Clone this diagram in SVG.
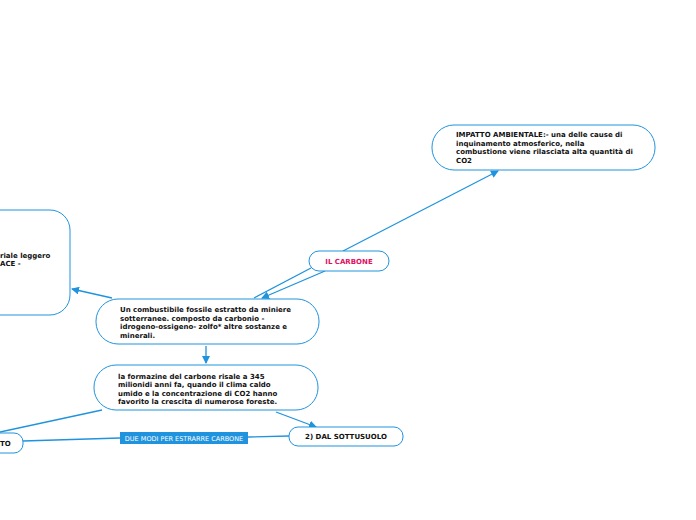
<svg xmlns="http://www.w3.org/2000/svg" width="696" height="520" viewBox="0 0 696 520">
<defs>
<marker id="a" markerWidth="8" markerHeight="8" refX="7" refY="4" orient="auto" markerUnits="userSpaceOnUse"><path d="M0,0 L8,4 L0,8 Z" fill="#1f93dd"/></marker>
<style>
.n{fill:#fff;stroke:#1f93dd;stroke-width:1}
.t{font-family:"DejaVu Sans",sans-serif;font-weight:bold;font-size:7px;fill:#111}
.c{stroke:#1f93dd;stroke-width:1.3;fill:none}
</style>
</defs>
<rect width="696" height="520" fill="#fff"/>
<g id="connectors">
<line class="c" x1="325" y1="271" x2="262" y2="298" marker-end="url(#a)"/>
<line class="c" x1="311" y1="268" x2="254" y2="298"/>
<line class="c" x1="343" y1="251" x2="498" y2="171" marker-end="url(#a)"/>
<line class="c" x1="112" y1="298" x2="72" y2="289" marker-end="url(#a)"/>
<line class="c" x1="206" y1="346" x2="206" y2="363" marker-end="url(#a)"/>
<line class="c" x1="102" y1="410" x2="0" y2="432"/>
<line class="c" x1="276" y1="412" x2="316" y2="427" marker-end="url(#a)"/>
<line class="c" x1="23" y1="441" x2="120" y2="438"/>
<line class="c" x1="248" y1="437" x2="289" y2="436"/>
</g>
<g id="impatto"><rect class="n" x="432" y="125" width="223" height="45" rx="22"/>
<text class="t"><tspan x="456" y="137">IMPATTO AMBIENTALE:- una delle cause di</tspan><tspan x="456" y="146">inquinamento atmosferico, nella</tspan><tspan x="456" y="154">combustione viene rilasciata alta quantità di</tspan><tspan x="456" y="163">CO2</tspan></text></g>
<g id="carbone"><rect class="n" x="309" y="251" width="80" height="20" rx="10"/>
<text class="t" x="349" y="264" text-anchor="middle" fill="#e0115f" style="fill:#e0115f">IL CARBONE</text></g>
<g id="left"><rect class="n" x="-30" y="210" width="100" height="105" rx="20"/>
<text class="t"><tspan x="0" y="258">riale leggero</tspan><tspan x="0" y="266">ACE -</tspan></text></g>
<g id="main"><rect class="n" x="96" y="299" width="223" height="45" rx="22"/>
<text class="t"><tspan x="120" y="312">Un combustibile fossile estratto da miniere</tspan><tspan x="120" y="321">sotterranee. composto da carbonio -</tspan><tspan x="120" y="329">idrogeno-ossigeno- zolfo* altre sostanze e</tspan><tspan x="120" y="338">minerali.</tspan></text></g>
<g id="formazione"><rect class="n" x="94" y="365" width="224" height="45" rx="22"/>
<text class="t"><tspan x="118" y="379">la formazine del carbone risale a 345</tspan><tspan x="118" y="387">milionidi anni fa, quando il clima caldo</tspan><tspan x="118" y="396">umido e la concentrazione di CO2 hanno</tspan><tspan x="118" y="404">favorito la crescita di numerose foreste.</tspan></text></g>
<g id="sottosuolo"><rect class="n" x="289" y="427" width="114" height="19" rx="9"/>
<text class="t" x="346" y="439" text-anchor="middle">2) DAL SOTTUSUOLO</text></g>
<g id="leftbottom"><rect class="n" x="-40" y="433" width="63" height="20" rx="9"/>
<text class="t" x="0" y="446">TO</text></g>
<g id="label"><rect x="120" y="432" width="128" height="12" fill="#1f93dd"/>
<text x="184" y="441" text-anchor="middle" font-family="DejaVu Sans,sans-serif" font-size="6.5" fill="#fff">DUE MODI PER ESTRARRE CARBONE</text></g>
</svg>
